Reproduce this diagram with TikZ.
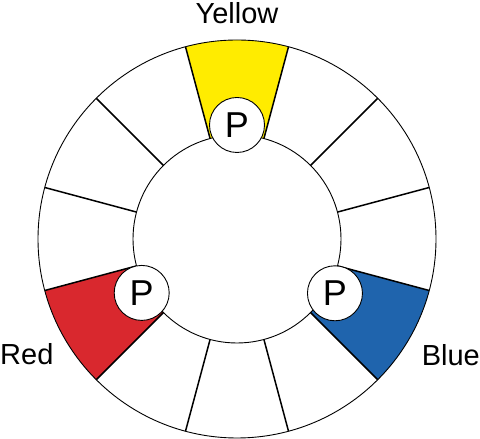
\documentclass[tikz,border=0pt]{standalone}
\usepackage{fontspec}
\setmainfont{Liberation Sans}
\definecolor{wyellow}{HTML}{FFEC00}
\definecolor{wred}{HTML}{D9282E}
\definecolor{wblue}{HTML}{1F64AD}
\begin{document}
\begin{tikzpicture}[x=1pt,y=1pt,
  ring/.style={draw=black,line width=0.9pt},
  spoke/.style={draw=black,line width=1.5pt},
  pcircle/.style={circle,draw=black,line width=0.9pt,fill=white,minimum size=55pt,inner sep=0pt,font=\fontsize{36}{40}\selectfont},
  lab/.style={font=\fontsize{29}{32}\selectfont,inner sep=0pt}]
\useasboundingbox (0,0) rectangle (480,439);
\begin{scope}[shift={(237,200)}]
  % coloured sectors
  \foreach \a/\c in {75/wyellow,195/wred,315/wblue}{
    \fill[\c] (\a:104) -- (\a:199) arc[start angle=\a,delta angle=30,radius=199]
      -- ({\a+30}:104) arc[start angle={\a+30},delta angle=-30,radius=104] -- cycle;
  }
  % rings
  \draw[ring] (0,0) circle[radius=199];
  \draw[ring] (0,0) circle[radius=104];
  % spokes
  \foreach \a in {15,45,...,345}{
    \draw[spoke] (\a:104) -- (\a:199);
  }
  % primaries
  \node[pcircle] (py) at (90:114) {P};
  \node[pcircle] (pr) at (209.5:109.5) {P};
  \node[pcircle] (pb) at (331:112) {P};
\end{scope}
\node[lab] (ly) at (237,426) {Yellow};
\node[lab,anchor=west] (lr) at (0,85) {Red};
\node[lab,anchor=east] (lb) at (480,84) {Blue};
\end{tikzpicture}
\end{document}
